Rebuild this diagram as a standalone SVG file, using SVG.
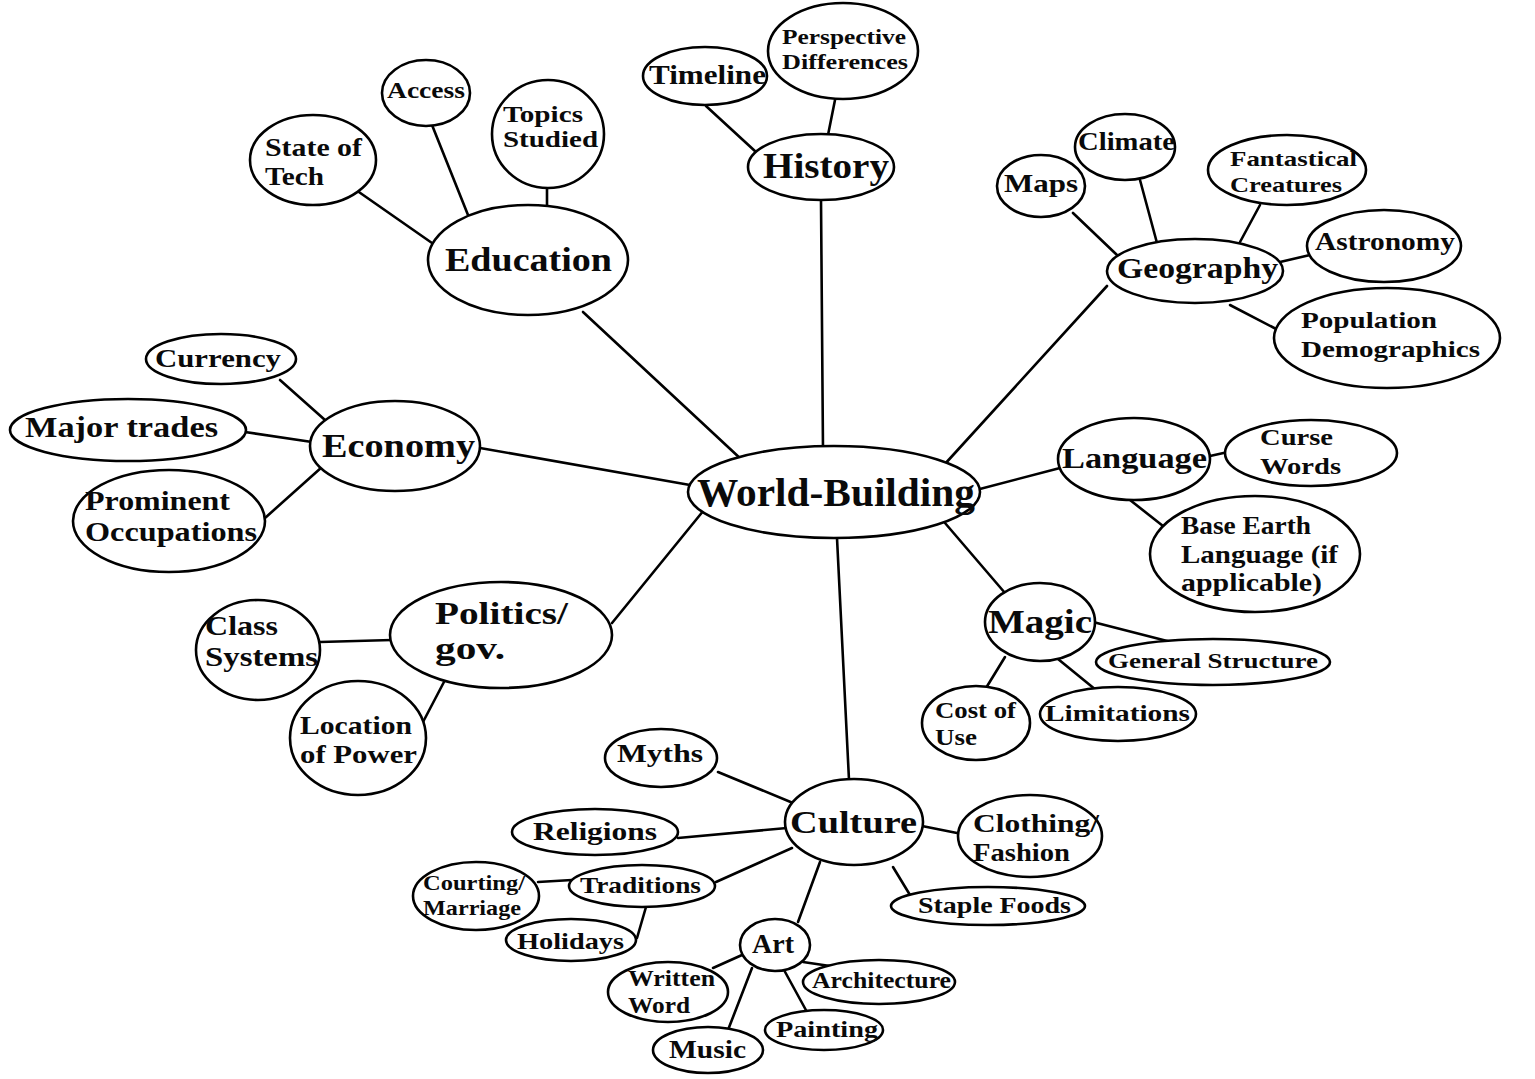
<svg xmlns="http://www.w3.org/2000/svg" width="1535" height="1079" viewBox="0 0 1535 1079">
<style>
.c line{stroke:#000;stroke-width:2.6;stroke-linecap:round}
ellipse{fill:#fff;stroke:#000;stroke-width:2.6}
text{font-family:"Liberation Serif","Times New Roman",serif;font-weight:bold;fill:#0a0a0a}
</style>
<rect width="1535" height="1079" fill="#fff"/>
<g class="c" id="connectors">
<line x1="821" y1="200" x2="823" y2="450"/>
<line x1="583" y1="312" x2="742" y2="460"/>
<line x1="1107" y1="286" x2="944" y2="465"/>
<line x1="480" y1="448" x2="690" y2="485"/>
<line x1="1060" y1="468" x2="976" y2="490"/>
<line x1="612" y1="623" x2="704" y2="510"/>
<line x1="945" y1="523" x2="1005" y2="593"/>
<line x1="837" y1="538" x2="849" y2="780"/>
<line x1="706" y1="106" x2="756" y2="152"/>
<line x1="835" y1="100" x2="828" y2="135"/>
<line x1="356" y1="190" x2="432" y2="243"/>
<line x1="432" y1="125" x2="468" y2="215"/>
<line x1="547" y1="188" x2="547" y2="207"/>
<line x1="280" y1="380" x2="325" y2="420"/>
<line x1="245" y1="432" x2="312" y2="442"/>
<line x1="265" y1="518" x2="322" y2="467"/>
<line x1="320" y1="642" x2="392" y2="640"/>
<line x1="423" y1="722" x2="445" y2="680"/>
<line x1="1073" y1="213" x2="1117" y2="255"/>
<line x1="1140" y1="180" x2="1157" y2="243"/>
<line x1="1260" y1="205" x2="1240" y2="242"/>
<line x1="1280" y1="262" x2="1310" y2="255"/>
<line x1="1230" y1="305" x2="1278" y2="330"/>
<line x1="1210" y1="456" x2="1228" y2="452"/>
<line x1="1130" y1="500" x2="1163" y2="526"/>
<line x1="1093" y1="622" x2="1175" y2="643"/>
<line x1="1005" y1="657" x2="986" y2="688"/>
<line x1="1058" y1="659" x2="1096" y2="690"/>
<line x1="718" y1="772" x2="793" y2="803"/>
<line x1="678" y1="838" x2="787" y2="828"/>
<line x1="716" y1="882" x2="792" y2="848"/>
<line x1="820" y1="862" x2="798" y2="922"/>
<line x1="922" y1="826" x2="957" y2="833"/>
<line x1="893" y1="867" x2="910" y2="895"/>
<line x1="538" y1="882" x2="572" y2="880"/>
<line x1="646" y1="907" x2="637" y2="938"/>
<line x1="713" y1="968" x2="742" y2="955"/>
<line x1="803" y1="962" x2="830" y2="966"/>
<line x1="784" y1="970" x2="807" y2="1012"/>
<line x1="752" y1="968" x2="728" y2="1030"/>
</g>
<g id="world-building"><ellipse cx="834" cy="492" rx="146" ry="46"/><text x="697" y="506" font-size="40" textLength="278" lengthAdjust="spacingAndGlyphs">World-Building</text></g>
<g id="history"><ellipse cx="821" cy="167" rx="73" ry="33"/><text x="763" y="178" font-size="36" textLength="126" lengthAdjust="spacingAndGlyphs">History</text></g>
<g id="timeline"><ellipse cx="705" cy="76" rx="62" ry="29"/><text x="649" y="84" font-size="28" textLength="117" lengthAdjust="spacingAndGlyphs">Timeline</text></g>
<g id="perspective"><ellipse cx="843" cy="51" rx="75" ry="48"/><text x="782" y="44" font-size="22" textLength="124" lengthAdjust="spacingAndGlyphs">Perspective</text><text x="782" y="69" font-size="22" textLength="126" lengthAdjust="spacingAndGlyphs">Differences</text></g>
<g id="education"><ellipse cx="528" cy="260" rx="100" ry="55"/><text x="445" y="271" font-size="34" textLength="167" lengthAdjust="spacingAndGlyphs">Education</text></g>
<g id="state-of-tech"><ellipse cx="313" cy="160" rx="63" ry="45"/><text x="265" y="156" font-size="26" textLength="97" lengthAdjust="spacingAndGlyphs">State of</text><text x="265" y="185" font-size="26" textLength="59" lengthAdjust="spacingAndGlyphs">Tech</text></g>
<g id="access"><ellipse cx="426" cy="93" rx="44" ry="33"/><text x="387" y="98" font-size="24" textLength="78" lengthAdjust="spacingAndGlyphs">Access</text></g>
<g id="topics"><ellipse cx="548" cy="134" rx="56" ry="54"/><text x="503" y="122" font-size="24" textLength="80" lengthAdjust="spacingAndGlyphs">Topics</text><text x="503" y="147" font-size="24" textLength="95" lengthAdjust="spacingAndGlyphs">Studied</text></g>
<g id="economy"><ellipse cx="395" cy="446" rx="85" ry="45"/><text x="322" y="457" font-size="34" textLength="153" lengthAdjust="spacingAndGlyphs">Economy</text></g>
<g id="currency"><ellipse cx="221" cy="359" rx="75" ry="25"/><text x="155" y="367" font-size="26" textLength="126" lengthAdjust="spacingAndGlyphs">Currency</text></g>
<g id="major-trades"><ellipse cx="128" cy="430" rx="118" ry="31"/><text x="25" y="437" font-size="30" textLength="193" lengthAdjust="spacingAndGlyphs">Major trades</text></g>
<g id="prominent"><ellipse cx="169" cy="521" rx="96" ry="51"/><text x="85" y="510" font-size="28" textLength="145" lengthAdjust="spacingAndGlyphs">Prominent</text><text x="85" y="541" font-size="28" textLength="172" lengthAdjust="spacingAndGlyphs">Occupations</text></g>
<g id="politics"><ellipse cx="501" cy="635" rx="111" ry="53"/><text x="435" y="624" font-size="32" textLength="133" lengthAdjust="spacingAndGlyphs">Politics/</text><text x="435" y="659" font-size="32" textLength="70" lengthAdjust="spacingAndGlyphs">gov.</text></g>
<g id="class-systems"><ellipse cx="258" cy="650" rx="62" ry="50"/><text x="205" y="635" font-size="27" textLength="73" lengthAdjust="spacingAndGlyphs">Class</text><text x="205" y="666" font-size="27" textLength="113" lengthAdjust="spacingAndGlyphs">Systems</text></g>
<g id="location-of-power"><ellipse cx="358" cy="738" rx="68" ry="57"/><text x="300" y="734" font-size="26" textLength="112" lengthAdjust="spacingAndGlyphs">Location</text><text x="300" y="763" font-size="26" textLength="117" lengthAdjust="spacingAndGlyphs">of Power</text></g>
<g id="geography"><ellipse cx="1195" cy="271" rx="88" ry="32"/><text x="1117" y="278" font-size="30" textLength="161" lengthAdjust="spacingAndGlyphs">Geography</text></g>
<g id="maps"><ellipse cx="1041" cy="186" rx="44" ry="31"/><text x="1004" y="192" font-size="26" textLength="74" lengthAdjust="spacingAndGlyphs">Maps</text></g>
<g id="climate"><ellipse cx="1125" cy="147" rx="50" ry="33"/><text x="1078" y="150" font-size="25" textLength="97" lengthAdjust="spacingAndGlyphs">Climate</text></g>
<g id="fantastical"><ellipse cx="1287" cy="170" rx="79" ry="35"/><text x="1230" y="166" font-size="22" textLength="127" lengthAdjust="spacingAndGlyphs">Fantastical</text><text x="1230" y="192" font-size="22" textLength="112" lengthAdjust="spacingAndGlyphs">Creatures</text></g>
<g id="astronomy"><ellipse cx="1384" cy="246" rx="77" ry="36"/><text x="1315" y="250" font-size="25" textLength="140" lengthAdjust="spacingAndGlyphs">Astronomy</text></g>
<g id="population"><ellipse cx="1387" cy="338" rx="113" ry="50"/><text x="1301" y="328" font-size="24" textLength="136" lengthAdjust="spacingAndGlyphs">Population</text><text x="1301" y="357" font-size="24" textLength="179" lengthAdjust="spacingAndGlyphs">Demographics</text></g>
<g id="language"><ellipse cx="1134" cy="459" rx="76" ry="41"/><text x="1062" y="468" font-size="30" textLength="145" lengthAdjust="spacingAndGlyphs">Language</text></g>
<g id="curse-words"><ellipse cx="1311" cy="453" rx="86" ry="33"/><text x="1260" y="445" font-size="24" textLength="73" lengthAdjust="spacingAndGlyphs">Curse</text><text x="1260" y="474" font-size="24" textLength="81" lengthAdjust="spacingAndGlyphs">Words</text></g>
<g id="base-earth"><ellipse cx="1255" cy="554" rx="105" ry="58"/><text x="1181" y="534" font-size="25" textLength="130" lengthAdjust="spacingAndGlyphs">Base Earth</text><text x="1181" y="563" font-size="25" textLength="157" lengthAdjust="spacingAndGlyphs">Language (if</text><text x="1181" y="591" font-size="25" textLength="141" lengthAdjust="spacingAndGlyphs">applicable)</text></g>
<g id="magic"><ellipse cx="1040" cy="622" rx="55" ry="39"/><text x="988" y="633" font-size="34" textLength="104" lengthAdjust="spacingAndGlyphs">Magic</text></g>
<g id="general-structure"><ellipse cx="1213" cy="662" rx="117" ry="23"/><text x="1108" y="668" font-size="22" textLength="210" lengthAdjust="spacingAndGlyphs">General Structure</text></g>
<g id="cost-of-use"><ellipse cx="976" cy="723" rx="54" ry="37"/><text x="935" y="718" font-size="23" textLength="81" lengthAdjust="spacingAndGlyphs">Cost of</text><text x="935" y="745" font-size="23" textLength="42" lengthAdjust="spacingAndGlyphs">Use</text></g>
<g id="limitations"><ellipse cx="1118" cy="714" rx="78" ry="27"/><text x="1045" y="721" font-size="24" textLength="145" lengthAdjust="spacingAndGlyphs">Limitations</text></g>
<g id="culture"><ellipse cx="854" cy="822" rx="69" ry="43"/><text x="790" y="833" font-size="32" textLength="127" lengthAdjust="spacingAndGlyphs">Culture</text></g>
<g id="myths"><ellipse cx="661" cy="758" rx="56" ry="29"/><text x="617" y="762" font-size="26" textLength="86" lengthAdjust="spacingAndGlyphs">Myths</text></g>
<g id="religions"><ellipse cx="595" cy="832" rx="83" ry="23"/><text x="533" y="840" font-size="26" textLength="124" lengthAdjust="spacingAndGlyphs">Religions</text></g>
<g id="traditions"><ellipse cx="642" cy="886" rx="73" ry="21"/><text x="580" y="893" font-size="24" textLength="121" lengthAdjust="spacingAndGlyphs">Traditions</text></g>
<g id="courting"><ellipse cx="476" cy="896" rx="63" ry="34"/><text x="423" y="890" font-size="22" textLength="102" lengthAdjust="spacingAndGlyphs">Courting/</text><text x="423" y="915" font-size="22" textLength="98" lengthAdjust="spacingAndGlyphs">Marriage</text></g>
<g id="holidays"><ellipse cx="571" cy="940" rx="65" ry="21"/><text x="517" y="949" font-size="24" textLength="107" lengthAdjust="spacingAndGlyphs">Holidays</text></g>
<g id="art"><ellipse cx="775" cy="945" rx="35" ry="26"/><text x="752" y="953" font-size="27" textLength="42" lengthAdjust="spacingAndGlyphs">Art</text></g>
<g id="written-word"><ellipse cx="668" cy="992" rx="60" ry="30"/><text x="628" y="986" font-size="23" textLength="87" lengthAdjust="spacingAndGlyphs">Written</text><text x="628" y="1013" font-size="23" textLength="62" lengthAdjust="spacingAndGlyphs">Word</text></g>
<g id="architecture"><ellipse cx="879" cy="982" rx="76" ry="22"/><text x="812" y="988" font-size="23" textLength="139" lengthAdjust="spacingAndGlyphs">Architecture</text></g>
<g id="painting"><ellipse cx="824" cy="1030" rx="59" ry="20"/><text x="776" y="1037" font-size="24" textLength="102" lengthAdjust="spacingAndGlyphs">Painting</text></g>
<g id="music"><ellipse cx="708" cy="1050" rx="55" ry="23"/><text x="669" y="1058" font-size="25" textLength="77" lengthAdjust="spacingAndGlyphs">Music</text></g>
<g id="clothing"><ellipse cx="1030" cy="836" rx="72" ry="41"/><text x="973" y="832" font-size="26" textLength="126" lengthAdjust="spacingAndGlyphs">Clothing/</text><text x="973" y="861" font-size="26" textLength="97" lengthAdjust="spacingAndGlyphs">Fashion</text></g>
<g id="staple-foods"><ellipse cx="988" cy="906" rx="97" ry="19"/><text x="918" y="913" font-size="23" textLength="153" lengthAdjust="spacingAndGlyphs">Staple Foods</text></g>
</svg>
